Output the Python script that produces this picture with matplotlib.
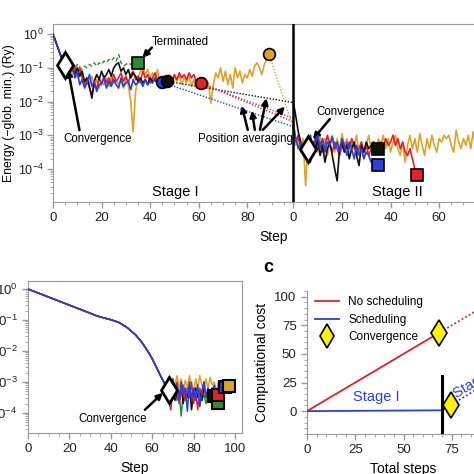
import numpy as np
import matplotlib
matplotlib.use('Agg')
import matplotlib.pyplot as plt
from matplotlib.ticker import FixedLocator, MultipleLocator, NullFormatter
from matplotlib.lines import Line2D

plt.rcParams['font.family'] = ['Liberation Sans', 'DejaVu Sans']
plt.rcParams['axes.edgecolor'] = '#999999'
plt.rcParams['xtick.color'] = '#999999'
plt.rcParams['ytick.color'] = '#999999'
plt.rcParams['xtick.labelcolor'] = '#222222'
plt.rcParams['ytick.labelcolor'] = '#222222'

BLUE = '#2a3fe0'
RED = '#e3202b'
BLACK = '#111111'
GOLD = '#dba32a'
GREEN = '#2e8b36'
PURPLE = '#9a4fb0'
YELLOW = '#fff200'

# ---------------- Panel a data (log10 energy) ----------------
STAGE1_LEN = 99
common_start = [0.0, -0.2, -0.4, -0.6, -0.78, -0.92]  # steps 0..5
conv1 = (5, -0.92)

a1_blue = [-0.9, -1.05, -0.85, -1.3, -1.1, -1.5, -1.35, -1.6, -1.45, -1.2,
           -1.55, -1.4, -1.7, -1.5, -1.45, -1.3, -1.6, -1.4, -1.55, -1.35,
           -1.5, -1.6, -1.3, -1.55, -1.45, -1.4, -1.65, -1.35, -1.5, -1.45,
           -1.4, -1.55, -1.35, -1.5, -1.4, -1.45, -1.3, -1.5, -1.4, -1.43]
a1_red = [-0.85, -1.0, -1.1, -0.95, -1.2, -1.0, -1.3, -1.5, -1.35, -1.6,
          -1.8, -1.5, -1.6, -1.3, -1.5, -1.25, -1.45, -1.3, -1.5, -1.2,
          -1.4, -1.3, -1.15, -1.4, -1.25, -1.45, -1.2, -1.1, -1.35, -1.25,
          -1.4, -1.1, -1.3, -1.2, -1.45, -1.3, -1.15, -1.4, -1.6, -1.3,
          -1.45, -1.35, -1.25, -1.4, -1.2, -1.35, -1.15, -1.3, -1.2, -1.35,
          -1.15, -1.3, -1.2, -1.4, -1.35, -1.46]
a1_black = [-0.9, -1.1, -0.95, -1.2, -1.0, -1.25, -1.1, -1.4, -1.3, -1.55,
            -1.9, -1.4, -1.2, -1.35, -1.1, -1.3, -1.2, -1.05, -1.25, -1.0,
            -0.9, -0.85, -1.1, -1.0, -1.2, -1.05, -1.3, -1.15, -1.25, -1.4,
            -1.3, -1.45, -1.35, -1.5, -1.3, -1.4, -1.35, -1.45, -1.3, -1.4,
            -1.35, -1.4]
a1_gold = [-0.8, -1.0, -1.2, -1.05, -1.3, -0.95, -1.2, -1.5, -1.3, -1.45,
           -1.25, -1.55, -1.35, -1.6, -1.4, -1.5, -1.3, -1.55, -1.25, -1.45,
           -1.35, -1.5, -1.4, -1.6, -1.3, -1.5, -2.0, -2.9, -1.7, -1.3,
           -1.1, -1.0, -1.2, -1.05, -1.3, -1.15, -1.4, -1.05, -1.5, -1.3,
           -1.6, -1.35, -1.2, -1.5, -1.25, -1.4, -1.2, -1.5, -1.3, -1.45,
           -1.25, -1.55, -1.35, -1.6, -1.4, -1.5, -1.3, -1.6, -1.45, -2.05,
           -1.5, -1.15, -1.3, -1.0, -1.4, -1.1, -1.5, -1.2, -1.6, -1.0,
           -1.3, -1.1, -1.45, -1.2, -1.3, -1.05, -1.25, -0.95, -0.85, -1.0,
           -1.2, -0.9, -0.75, -0.6]
a1_green = [-0.85, -0.95, -0.9, -1.0, -0.9, -1.0, -1.05, -0.95, -1.0, -0.9,
            -0.95, -0.85, -0.95, -0.85, -0.9, -0.8, -0.85, -0.75, -0.8, -0.7,
            -0.8, -0.6, -0.85, -0.95, -0.9, -0.85, -0.9, -0.85, -0.85, -0.85]

# position-averaging end values at end of stage I
avg_end = {'black': -2.03, 'purple': -2.5, 'red': -2.6, 'blue': -2.75, 'gold': -2.8}

a2_black = [-2.03, -2.45, -2.9, -3.2, -3.4, -3.6, -3.3, -3.8, -3.2, -3.5,
            -3.1, -3.6, -3.3, -3.8, -3.4, -3.2, -3.6, -4.0, -4.35, -3.4,
            -3.2, -3.5, -3.3, -3.7, -3.4, -3.2, -3.6, -3.9, -3.3, -3.5,
            -3.2, -3.4, -3.3, -3.2, -3.35, -3.4]
a2_blue = [-2.75, -3.1, -3.4, -3.2, -3.6, -3.3, -3.5, -3.0, -3.6, -3.2,
           -3.0, -3.4, -3.1, -3.5, -3.2, -3.3, -3.05, -3.4, -3.2, -3.5,
           -3.1, -3.3, -3.6, -3.2, -3.4, -3.7, -3.3, -3.6, -3.4, -3.7,
           -3.5, -3.6, -3.8, -3.7, -3.85, -3.88]
a2_red = [-2.6, -3.2, -3.0, -3.5, -3.3, -3.6, -3.4, -3.7, -3.3, -3.1,
          -3.4, -3.2, -3.5, -3.3, -3.0, -3.3, -3.5, -3.2, -3.4, -3.6,
          -3.3, -3.5, -3.2, -3.4, -3.1, -3.3, -3.6, -3.4, -3.2, -3.5,
          -3.3, -3.6, -3.4, -3.3, -3.5, -3.3, -3.2, -3.4, -3.1, -3.3,
          -3.2, -3.0, -3.3, -3.1, -3.4, -3.2, -3.5, -3.6, -3.4, -3.7,
          -4.0, -4.18]
a2_gold = [-2.8, -3.3, -3.0, -3.5, -3.1, -4.5, -3.3, -3.0, -3.6, -3.2,
           -3.5, -3.0, -3.4, -3.1, -3.6, -3.2, -3.0, -3.5, -3.1, -3.4,
           -2.95, -3.3, -3.1, -3.6, -3.2, -3.4, -3.0, -3.5, -3.2, -3.7,
           -3.3, -3.0, -3.4, -3.2, -3.5, -3.1, -3.3, -3.0, -3.4, -3.1,
           -3.5, -3.2, -3.0, -3.4, -3.6, -3.2, -3.8, -3.3, -3.0, -3.4,
           -3.1, -3.5, -2.95, -3.3, -3.6, -3.1, -3.4, -3.0, -3.3, -3.5,
           -3.1, -3.2, -3.0, -3.1, -3.0, -3.3, -3.5, -2.85, -3.2, -3.4,
           -3.1, -3.3, -3.0, -3.4, -2.9, -3.3, -3.1, -3.4, -3.0, -3.2, -3.1]
conv2 = (6, -3.4)

a_xticks = [0, 20, 40, 60, 80]

# ---------------- Panel b data ----------------
b_smooth_steps = [0, 5, 10, 15, 20, 25, 30, 33, 36, 40, 44, 48, 52, 55, 58, 60, 62, 64, 66]
b_smooth_log = [0.0, -0.13, -0.26, -0.39, -0.52, -0.65, -0.78, -0.86, -0.92, -0.99,
                -1.08, -1.25, -1.48, -1.72, -2.02, -2.25, -2.52, -2.8, -3.05]
b_noise_start = 67
b_blue = [-3.1, -2.85, -3.3, -2.9, -3.5, -3.1, -3.6, -3.0, -3.4, -3.2,
          -3.95, -3.0, -3.5, -3.2, -3.6, -3.1, -3.8, -3.3, -3.0, -3.5,
          -3.2, -3.6, -3.3, -3.1, -3.5, -3.4, -3.2, -3.3, -3.15]
b_red = [-3.3, -3.6, -3.9, -3.2, -3.5, -3.0, -3.7, -3.3, -3.1, -3.6,
         -3.2, -3.5, -3.0, -3.7, -3.3, -3.9, -3.2, -3.4, -3.0, -3.5,
         -3.3, -3.6, -3.2, -3.4, -3.5, -3.42]
b_green = [-3.2, -3.4, -3.1, -3.5, -3.2, -3.6, -3.3, -4.1, -3.4, -3.2,
           -3.5, -3.3, -3.6, -3.4, -3.2, -3.5, -3.3, -3.6, -3.4, -3.7,
           -3.4, -3.6, -3.5, -3.7, -3.6, -3.67]
b_gold = [-3.2, -3.0, -3.3, -2.9, -3.1, -2.8, -3.2, -2.9, -3.3, -2.95,
          -3.2, -2.8, -3.1, -3.4, -2.9, -3.2, -2.8, -3.1, -3.3, -2.9,
          -3.2, -2.85, -3.1, -3.0, -3.3, -3.0, -3.4, -3.6, -3.3, -3.1, -3.12]
b_black = [-3.3, -3.1, -3.4, -3.2, -3.6, -3.3, -3.5, -3.2, -3.7, -3.3,
           -3.5, -3.1, -3.9, -3.4, -3.2, -3.5, -3.3, -3.6, -3.2, -3.4,
           -3.3, -3.5, -3.4, -3.45]
b_conv = (68, -3.26)

# ---------------- Panel c data ----------------
c_nosched_x = [0, 69]
c_nosched_y = [0, 69]
c_nosched_ext_x = [69, 100]
c_nosched_ext_y = [69, 100]
c_sched_x = [0, 70, 75]
c_sched_y = [0, 0.7, 6]
c_sched_ext_x = [75, 100]
c_sched_ext_y = [6, 31]
c_conv_x = [68.6, 74.7]
c_conv_y = [68, 5.5]
c_stage_x = 70
c_stage_top = 31

W = 474.0
fig = plt.figure(figsize=(4.74, 4.74), dpi=100)

def L(v):
    return 10 ** np.asarray(v, dtype=float)

# ================= Panel a =================
ax = fig.add_axes([53 / W, 1 - 202 / W, 442 / W, 178 / W])
ax.set_yscale('log')
ax.set_xlim(0, 182)
ax.set_ylim(10 ** -4.98, 10 ** 0.3)

def s1(vals):
    x = np.concatenate([np.arange(len(common_start)), np.arange(6, 6 + len(vals))])
    y = np.concatenate([common_start, vals])
    return x, y

lw = 1.2
xg, yg = s1(a1_gold)
xgr, ygr = s1(a1_green)
xr, yr = s1(a1_red)
xk, yk = s1(a1_black)
xb, yb = s1(a1_blue)

ax.plot(xgr, L(ygr), color=GREEN, lw=1.0, ls=(0, (3, 2)), zorder=2)
ax.plot(xg, L(yg), color=GOLD, lw=lw, zorder=2)
ax.plot(xr, L(yr), color=RED, lw=lw, zorder=3)
ax.plot(xk, L(yk), color=BLACK, lw=lw, zorder=3)
ax.plot(xb, L(yb), color=BLUE, lw=lw, zorder=4)

# position averaging dotted
dot = (0, (1, 1.2))
ax.plot([xk[-1], STAGE1_LEN], L([yk[-1], avg_end['black']]), color=BLACK, lw=1.0, ls=dot, zorder=2)
ax.plot([xr[-1], STAGE1_LEN], L([yr[-1], avg_end['purple']]), color=PURPLE, lw=1.0, ls=dot, zorder=2)
ax.plot([xr[-1], STAGE1_LEN], L([yr[-1], avg_end['red']]), color=RED, lw=1.0, ls=dot, zorder=2)
ax.plot([xb[-1], STAGE1_LEN], L([yb[-1], avg_end['blue']]), color=BLUE, lw=1.0, ls=dot, zorder=2)
ax.plot([xg[-1], STAGE1_LEN], L([yg[-1], avg_end['gold']]), color=GOLD, lw=1.0, ls=dot, zorder=2)

# stage II
def s2(vals):
    return STAGE1_LEN + np.arange(len(vals)), np.asarray(vals)

x2g, y2g = s2(a2_gold)
x2r, y2r = s2(a2_red)
x2k, y2k = s2(a2_black)
x2b, y2b = s2(a2_blue)
ax.plot(x2g, L(y2g), color=GOLD, lw=lw, zorder=2)
ax.plot(x2r, L(y2r), color=RED, lw=lw, zorder=3)
ax.plot(x2k, L(y2k), color=BLACK, lw=lw, zorder=3)
ax.plot(x2b, L(y2b), color=BLUE, lw=lw, zorder=4)

ax.axvline(STAGE1_LEN, color='k', lw=1.8, zorder=5)

mk = dict(mec='k', mew=1.2, ms=8.5, zorder=7, ls='none')
ax.plot(xb[-1], L(yb[-1]), 'o', mfc=BLUE, **mk)
ax.plot(xk[-1], L(yk[-1]), 'o', mfc=BLACK, **mk)
ax.plot(xr[-1], L(yr[-1]), 'o', mfc=RED, **mk)
ax.plot(xg[-1], L(yg[-1]), 'o', mfc=GOLD, **mk)
ax.plot(xgr[-1], L(ygr[-1]), 's', mfc=GREEN, **mk)
ax.plot(x2k[-1], L(y2k[-1]), 's', mfc=BLACK, **mk)
ax.plot(x2b[-1], L(y2b[-1]), 's', mfc=BLUE, **mk)
ax.plot(x2r[-1], L(y2r[-1]), 's', mfc=RED, **mk)

dm = dict(marker='d', ms=13, mfc='white', mec='k', mew=2, ls='none', zorder=8)
ax.plot(conv1[0], L(conv1[1]), **dm)
ax.plot(STAGE1_LEN + conv2[0], L(conv2[1]), **dm)

tick_pos = a_xticks + [STAGE1_LEN + t for t in a_xticks]
ax.xaxis.set_major_locator(FixedLocator(tick_pos))
ax.set_xticklabels([str(t) for t in a_xticks] * 2)
minor = [m for m in range(0, STAGE1_LEN, 5) if m not in a_xticks] + \
        [STAGE1_LEN + m for m in range(0, 85, 5) if m not in a_xticks]
ax.xaxis.set_minor_locator(FixedLocator(minor))
ax.tick_params(labelsize=9.5, width=1, length=4)
ax.tick_params(axis='y', labelsize=9, pad=2.5)
ax.tick_params(which='minor', length=2.5)
ax.set_xlabel('Step', fontsize=10)
ax.set_ylabel('Energy (\u2212glob. min.) (Ry)', fontsize=8.8)
ax.yaxis.set_label_coords(-(53 - 15) / 442, 0.5)

arr = dict(arrowstyle='-|>', color='k', lw=1.8, mutation_scale=9, shrinkA=0, shrinkB=0)
ax.text(18.5, L(-3.1), 'Convergence', fontsize=8.3, ha='center', va='center')
ax.annotate('', xy=(6.2, L(-1.05)), xytext=(10.9, L(-2.85)), arrowprops=arr)
ax.text(52.3, L(-0.24), 'Terminated', fontsize=8.3, ha='center', va='center')
ax.annotate('', xy=(36.8, L(-0.7)), xytext=(40.7, L(-0.4)), arrowprops=arr)
ax.text(79.4, L(-3.1), 'Position averaging', fontsize=8.3, ha='center', va='center')
for (hx, hy), tx in zip([(77.7, -2.12), (81.9, -2.27), (87.9, -1.9), (95.5, -2.15)],
                        [80.2, 83.1, 85.2, 86.4]):
    ax.annotate('', xy=(hx, L(hy)), xytext=(tx, L(-2.84)), arrowprops=arr)
ax.text(122.6, L(-2.3), 'Convergence', fontsize=8.3, ha='center', va='center')
ax.annotate('', xy=(107, L(-3.12)), xytext=(114, L(-2.52)), arrowprops=arr)
ax.text(50.2, L(-4.69), 'Stage I', fontsize=10.5, ha='center', va='center')
ax.text(141.6, L(-4.69), 'Stage II', fontsize=10.5, ha='center', va='center')

# ================= Panel b =================
bx = fig.add_axes([28 / W, 1 - 433 / W, 214 / W, 152 / W])
bx.set_yscale('log')
bx.set_xlim(0, 103.4)
bx.set_ylim(10 ** -4.65, 10 ** 0.26)

def bser(vals):
    x = np.concatenate([b_smooth_steps, b_noise_start + np.arange(len(vals))])
    y = np.concatenate([b_smooth_log, vals])
    return x, y

series_b = [(b_gold, GOLD), (b_green, GREEN), (b_black, BLACK), (b_red, RED), (b_blue, BLUE)]
for vals, col in series_b:
    x, y = bser(vals)
    bx.plot(x, L(y), color=col, lw=1.1, zorder=3)
for vals, col in [(b_black, BLACK), (b_green, GREEN), (b_red, RED), (b_blue, BLUE), (b_gold, GOLD)]:
    x, y = bser(vals)
    bx.plot(x[-1], L(y[-1]), 's', mfc=col, mec='k', mew=1.5, ms=8, zorder=7)
bx.plot(b_conv[0], L(b_conv[1]), **dm)
bx.annotate('', xy=(65.2, L(-3.35)), xytext=(56.5, L(-3.9)), arrowprops=arr)
bx.text(41, L(-4.19), 'Convergence', fontsize=8.3, ha='center', va='center')
bx.xaxis.set_major_locator(MultipleLocator(20))
bx.xaxis.set_minor_locator(MultipleLocator(5))
bx.tick_params(labelsize=9.5, width=1, length=4)
bx.tick_params(which='minor', length=2.5)
bx.set_xlabel('Step', fontsize=10)

# ================= Panel c =================
cx = fig.add_axes([307 / W, 1 - 434 / W, 193 / W, 143 / W])
cx.set_xlim(0, 100)
cx.set_ylim(-20, 105)
for s in ['top', 'right']:
    cx.spines[s].set_visible(False)
cx.plot(c_nosched_x, c_nosched_y, color=RED, lw=1.3, zorder=3)
cx.plot(c_nosched_ext_x, c_nosched_ext_y, color=RED, lw=1.3, ls=(0, (1, 1.3)), zorder=3)
cx.plot(c_sched_x, c_sched_y, color=BLUE, lw=1.3, zorder=3)
cx.plot(c_sched_ext_x, c_sched_ext_y, color=BLUE, lw=1.3, ls=(0, (1, 1.3)), zorder=3)
cx.plot([c_stage_x, c_stage_x], [-20, c_stage_top], color='k', lw=2.2, zorder=4)
cx.plot(c_conv_x, c_conv_y, 'd', ms=13, mfc=YELLOW, mec='k', mew=1.2, ls='none', zorder=6)
cx.text(36, 12, 'Stage I', color=BLUE, fontsize=10.5, ha='center', va='center')
cx.text(74.5, 9, 'Stage II', color=BLUE, fontsize=10.5, ha='left', va='bottom', rotation=31)
cx.xaxis.set_major_locator(MultipleLocator(25))
cx.xaxis.set_minor_locator(MultipleLocator(5))
cx.yaxis.set_major_locator(MultipleLocator(25))
cx.yaxis.set_minor_locator(MultipleLocator(5))
cx.tick_params(labelsize=9.5, width=1, length=4)
cx.tick_params(which='minor', length=2.5)
cx.set_xlabel('Total steps', fontsize=10)
cx.set_ylabel('Computational cost', fontsize=10)
handles = [Line2D([], [], color=RED, lw=1.3),
           Line2D([], [], color=BLUE, lw=1.3),
           Line2D([], [], marker='d', ms=12, mfc=YELLOW, mec='k', mew=1.2, ls='none')]
cx.legend(handles, ['No scheduling', 'Scheduling', 'Convergence'], loc='upper left',
          frameon=False, fontsize=8.5, handlelength=2.0, borderaxespad=0.3,
          labelspacing=0.45, bbox_to_anchor=(0.0, 1.02))

fig.text(268 / W, 1 - 268 / W, 'c', fontsize=13, fontweight='bold', ha='center', va='center')

fig.savefig('out.png', dpi=100)
